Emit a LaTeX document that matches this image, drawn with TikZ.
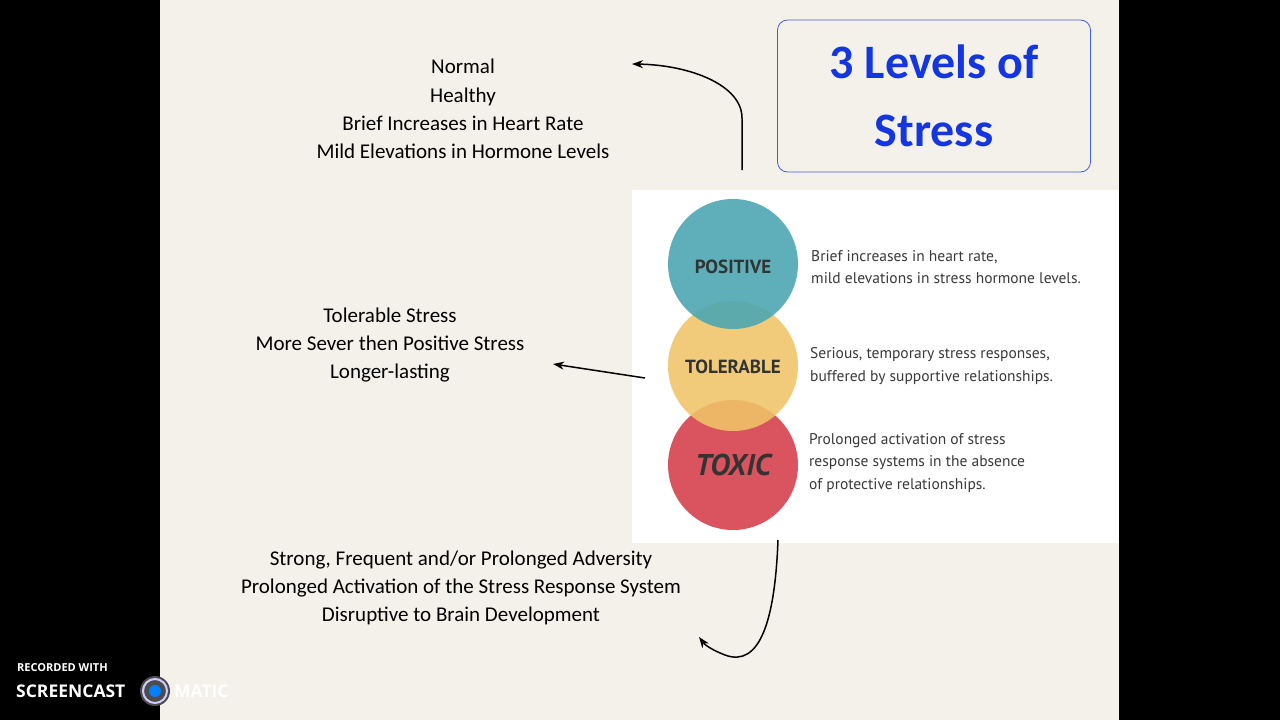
\documentclass[tikz,border=0pt]{standalone}
\usepackage{fontspec}
\setmainfont{Carlito}
\newfontfamily\ptsans{PT Sans}
\newfontfamily\opensans{Open Sans}
\usetikzlibrary{arrows.meta}
\definecolor{bg}{HTML}{F4F0EA}
\definecolor{tealc}{HTML}{4DA7B2}
\definecolor{yellc}{HTML}{F0C468}
\definecolor{redc}{HTML}{D9545F}
\definecolor{titleblue}{HTML}{1336E0}
\definecolor{gtext}{HTML}{3A3A3A}
\tikzset{
 slidetxt/.style={font=\fontsize{21}{28.3}\selectfont, align=center, text=black},
 desc/.style={font=\ptsans\fontsize{15.5}{22.3}\selectfont, align=left, anchor=west, text=gtext, inner sep=0pt},
 clabel/.style={font=\ptsans\bfseries\fontsize{19}{22}\selectfont, text=black!80},
 hand/.style={line width=1.5pt, -{Stealth[length=11pt,width=8pt]}}
}
\begin{document}
\begin{tikzpicture}[x=1pt,y=-1pt]
\useasboundingbox (0,0) rectangle (1280,720);
\fill[black] (0,0) rectangle (1280,720);
\fill[bg] (160,0) rectangle (1119,720);
\fill[white] (632,190) rectangle (1119,543);
% title
\node[draw=titleblue!80, line width=0.8pt, rounded corners=10pt, minimum width=313pt, minimum height=152pt, font=\bfseries\fontsize{48}{68}\selectfont, text=titleblue, align=center] (title) at (934,96) {3 Levels of\\Stress};
% circles
\fill[redc] (733,465) circle (65);
\fill[yellc, opacity=0.88] (733,366) circle (65);
\fill[tealc, opacity=0.9] (733,264) circle (65);
\node[clabel] (pos) at (733,267) {POSITIVE};
\node[clabel] (tol) at (733,367) {TOLERABLE};
\node[clabel, font=\ptsans\bfseries\itshape\fontsize{30}{34}\selectfont] (tox) at (733,465) {TOXIC};
\node[desc] (d1) at (811,267) {Brief increases in heart rate,\\mild elevations in stress hormone levels.};
\node[desc] (d2) at (810,366) {Serious, temporary stress responses,\\buffered by supportive relationships.};
\node[desc] (d3) at (809,463) {Prolonged activation of stress\\response systems in the absence\\of protective relationships.};
% slide texts
\node[slidetxt] (t1) at (463,109) {Normal\\Healthy\\Brief Increases in Heart Rate\\Mild Elevations in Hormone Levels};
\node[slidetxt] (t2) at (390,345) {Tolerable Stress\\More Sever then Positive Stress\\Longer-lasting};
\node[slidetxt] (t3) at (461,588) {Strong, Frequent and/or Prolonged Adversity\\Prolonged Activation of the Stress Response System\\Disruptive to Brain Development};
% arrows
\coordinate (a1s) at (742,170); \coordinate (a1e) at (632,64);
\draw[hand] (a1s) -- (742,118) .. controls (742,85) and (690,65) .. (a1e);
\coordinate (a2s) at (645,378); \coordinate (a2e) at (553,364);
\draw[hand] (a2s) -- (a2e);
\coordinate (a3s) at (778,540); \coordinate (a3e) at (699,637);
\draw[hand] (a3s) .. controls (775,620) and (760,668) .. (725,655) .. controls (712,650) and (705,645) .. (a3e);
% watermark
\node[font=\opensans\bfseries\fontsize{11}{13}\selectfont, text=white, anchor=west, inner sep=0pt] (rw) at (17,668) {RECORDED WITH};
\node[font=\opensans\bfseries\fontsize{17.5}{20}\selectfont, text=white, anchor=west, inner sep=0pt] (sc) at (16,691) {SCREENCAST};
\fill[black!70] (155,691) circle (15);
\draw[white!80!blue, line width=2pt] (155,691) circle (12);
\fill[blue!50!cyan] (155,691) circle (6);
\node[font=\opensans\bfseries\fontsize{17.5}{20}\selectfont, text=white, anchor=west, inner sep=0pt] (mt) at (174,691) {MATIC};
\end{tikzpicture}
\end{document}
